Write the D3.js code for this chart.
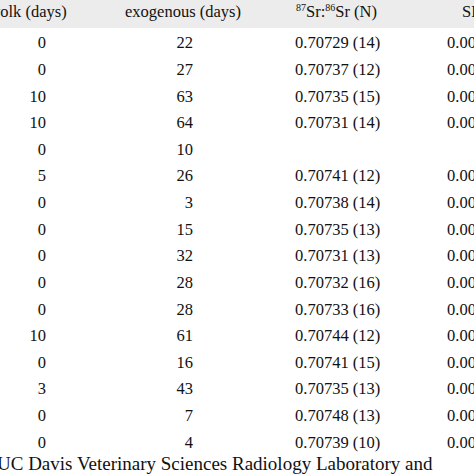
<!DOCTYPE html>
<html><head><meta charset="utf-8">
<script src="https://cdn.jsdelivr.net/npm/d3@7"></script>
<style>body{margin:0;background:#fff;overflow:hidden}</style>
</head><body><svg id="c" width="474" height="474"></svg>
<script>
const yolk = ["0","0","10","10","0","5","0","0","0","0","0","10","0","3","0","0"];
const exo = ["22","27","63","64","10","26","3","15","32","28","28","61","16","43","7","4"];
const ratio = ["0.70729","0.70737","0.70735","0.70731","","0.70741","0.70738","0.70735","0.70731","0.70732","0.70733","0.70744","0.70741","0.70735","0.70748","0.70739"];
const nval = ["14","12","15","14","","12","14","13","13","16","16","12","15","13","13","10"];
const sd = ["0.00","0.00","0.00","0.00","","0.00","0.00","0.00","0.00","0.00","0.00","0.00","0.00","0.00","0.00","0.00"];
const svg = d3.select("#c");
const font = "Liberation Serif, serif";
const y = d3.scaleBand().domain(d3.range(yolk.length)).range([30, 456]);
svg.append("rect").attr("x",0).attr("y",0).attr("width",474).attr("height",28).attr("fill","#ececec");
const g = svg.append("g").attr("font-family", font).attr("font-size", 16.5).attr("fill", "#111");
g.append("text").attr("x", -3).attr("y", 17).text("yolk (days)").attr("text-anchor","start").attr("dx",-5);
g.append("text").attr("x", 183).attr("y", 17).attr("text-anchor","middle").text("exogenous (days)");
const h = g.append("text").attr("x", 296).attr("y", 17);
h.append("tspan").attr("font-size",10).attr("dy",-6).text("87");
h.append("tspan").attr("dy",6).text("Sr:");
h.append("tspan").attr("font-size",10).attr("dy",-6).text("86");
h.append("tspan").attr("dy",6).text("Sr (N)");
g.append("text").attr("x", 462).attr("y", 17).text("SD");
const rows = g.selectAll("g.r").data(d3.range(yolk.length)).join("g")
  .attr("transform", i => `translate(0,${y(i)+y.bandwidth()/2+5})`);
rows.append("text").attr("x",46).attr("text-anchor","end").text(i=>yolk[i]);
rows.append("text").attr("x",193).attr("text-anchor","end").text(i=>exo[i]);
rows.append("text").attr("x",295).text(i=> ratio[i] ? `${ratio[i]} (${nval[i]})` : "");
rows.append("text").attr("x",447).text(i=>sd[i]);
g.append("text").attr("x",-3).attr("y",470).attr("font-size",19).text("UC Davis Veterinary Sciences Radiology Laboratory and");
</script></body></html>
